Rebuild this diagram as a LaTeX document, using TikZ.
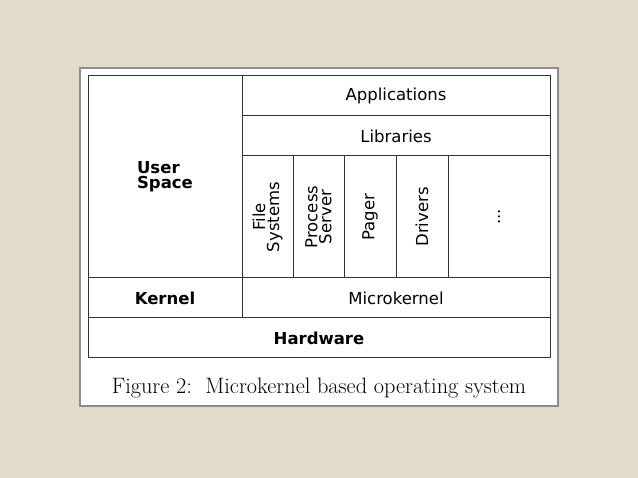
\documentclass[tikz,border=0pt]{standalone}
\usepackage{fontspec}
\setsansfont{DejaVu Sans}
\begin{document}
\begin{tikzpicture}[x=1pt,y=-1pt,
  cell/.style={font=\sffamily\fontsize{16.5}{18}\selectfont},
  bcell/.style={font=\sffamily\bfseries\fontsize{16.5}{18}\selectfont},
  line/.style={draw=black!80,line width=1pt}]
\fill[fill={rgb,255:red,226;green,219;blue,202}] (0,0) rectangle (638,478);
\useasboundingbox (0,0) rectangle (638,478);
\filldraw[fill=white,draw=black!45,line width=1.2pt] (80,68) rectangle (558,406);
\draw[line] (88,76) rectangle (550,358);
\draw[line] (242,76) -- (242,318);
\draw[line] (242,116) -- (550,116);
\draw[line] (242,156) -- (550,156);
\draw[line] (88,278) -- (550,278);
\draw[line] (88,318) -- (550,318);
\foreach \x in {293,344,396,448} \draw[line] (\x,156) -- (\x,278);
\node[cell] (app) at (396,96) {Applications};
\node[cell] (lib) at (396,136) {Libraries};
\node[bcell,align=left] (us) at (165,177) {User\\[-3pt]Space};
\node[cell,rotate=90,align=center] (fs) at (267.5,217) {File\\[-4pt]Systems};
\node[cell,rotate=90,align=center] (ps) at (318.5,217) {Process\\[-4pt]Server};
\node[cell,rotate=90] (pg) at (370,217) {Pager};
\node[cell,rotate=90] (dr) at (422,217) {Drivers};
\node[cell,rotate=90] (dots) at (499,217) {...};
\node[bcell] (k) at (165,298) {Kernel};
\node[cell] (mk) at (396,298) {Microkernel};
\node[bcell] (hw) at (319,338) {Hardware};
\node[font=\fontsize{22.3}{25}\selectfont] (cap) at (319,388) {Figure 2:\ \ Microkernel based operating system};
\end{tikzpicture}
\end{document}
